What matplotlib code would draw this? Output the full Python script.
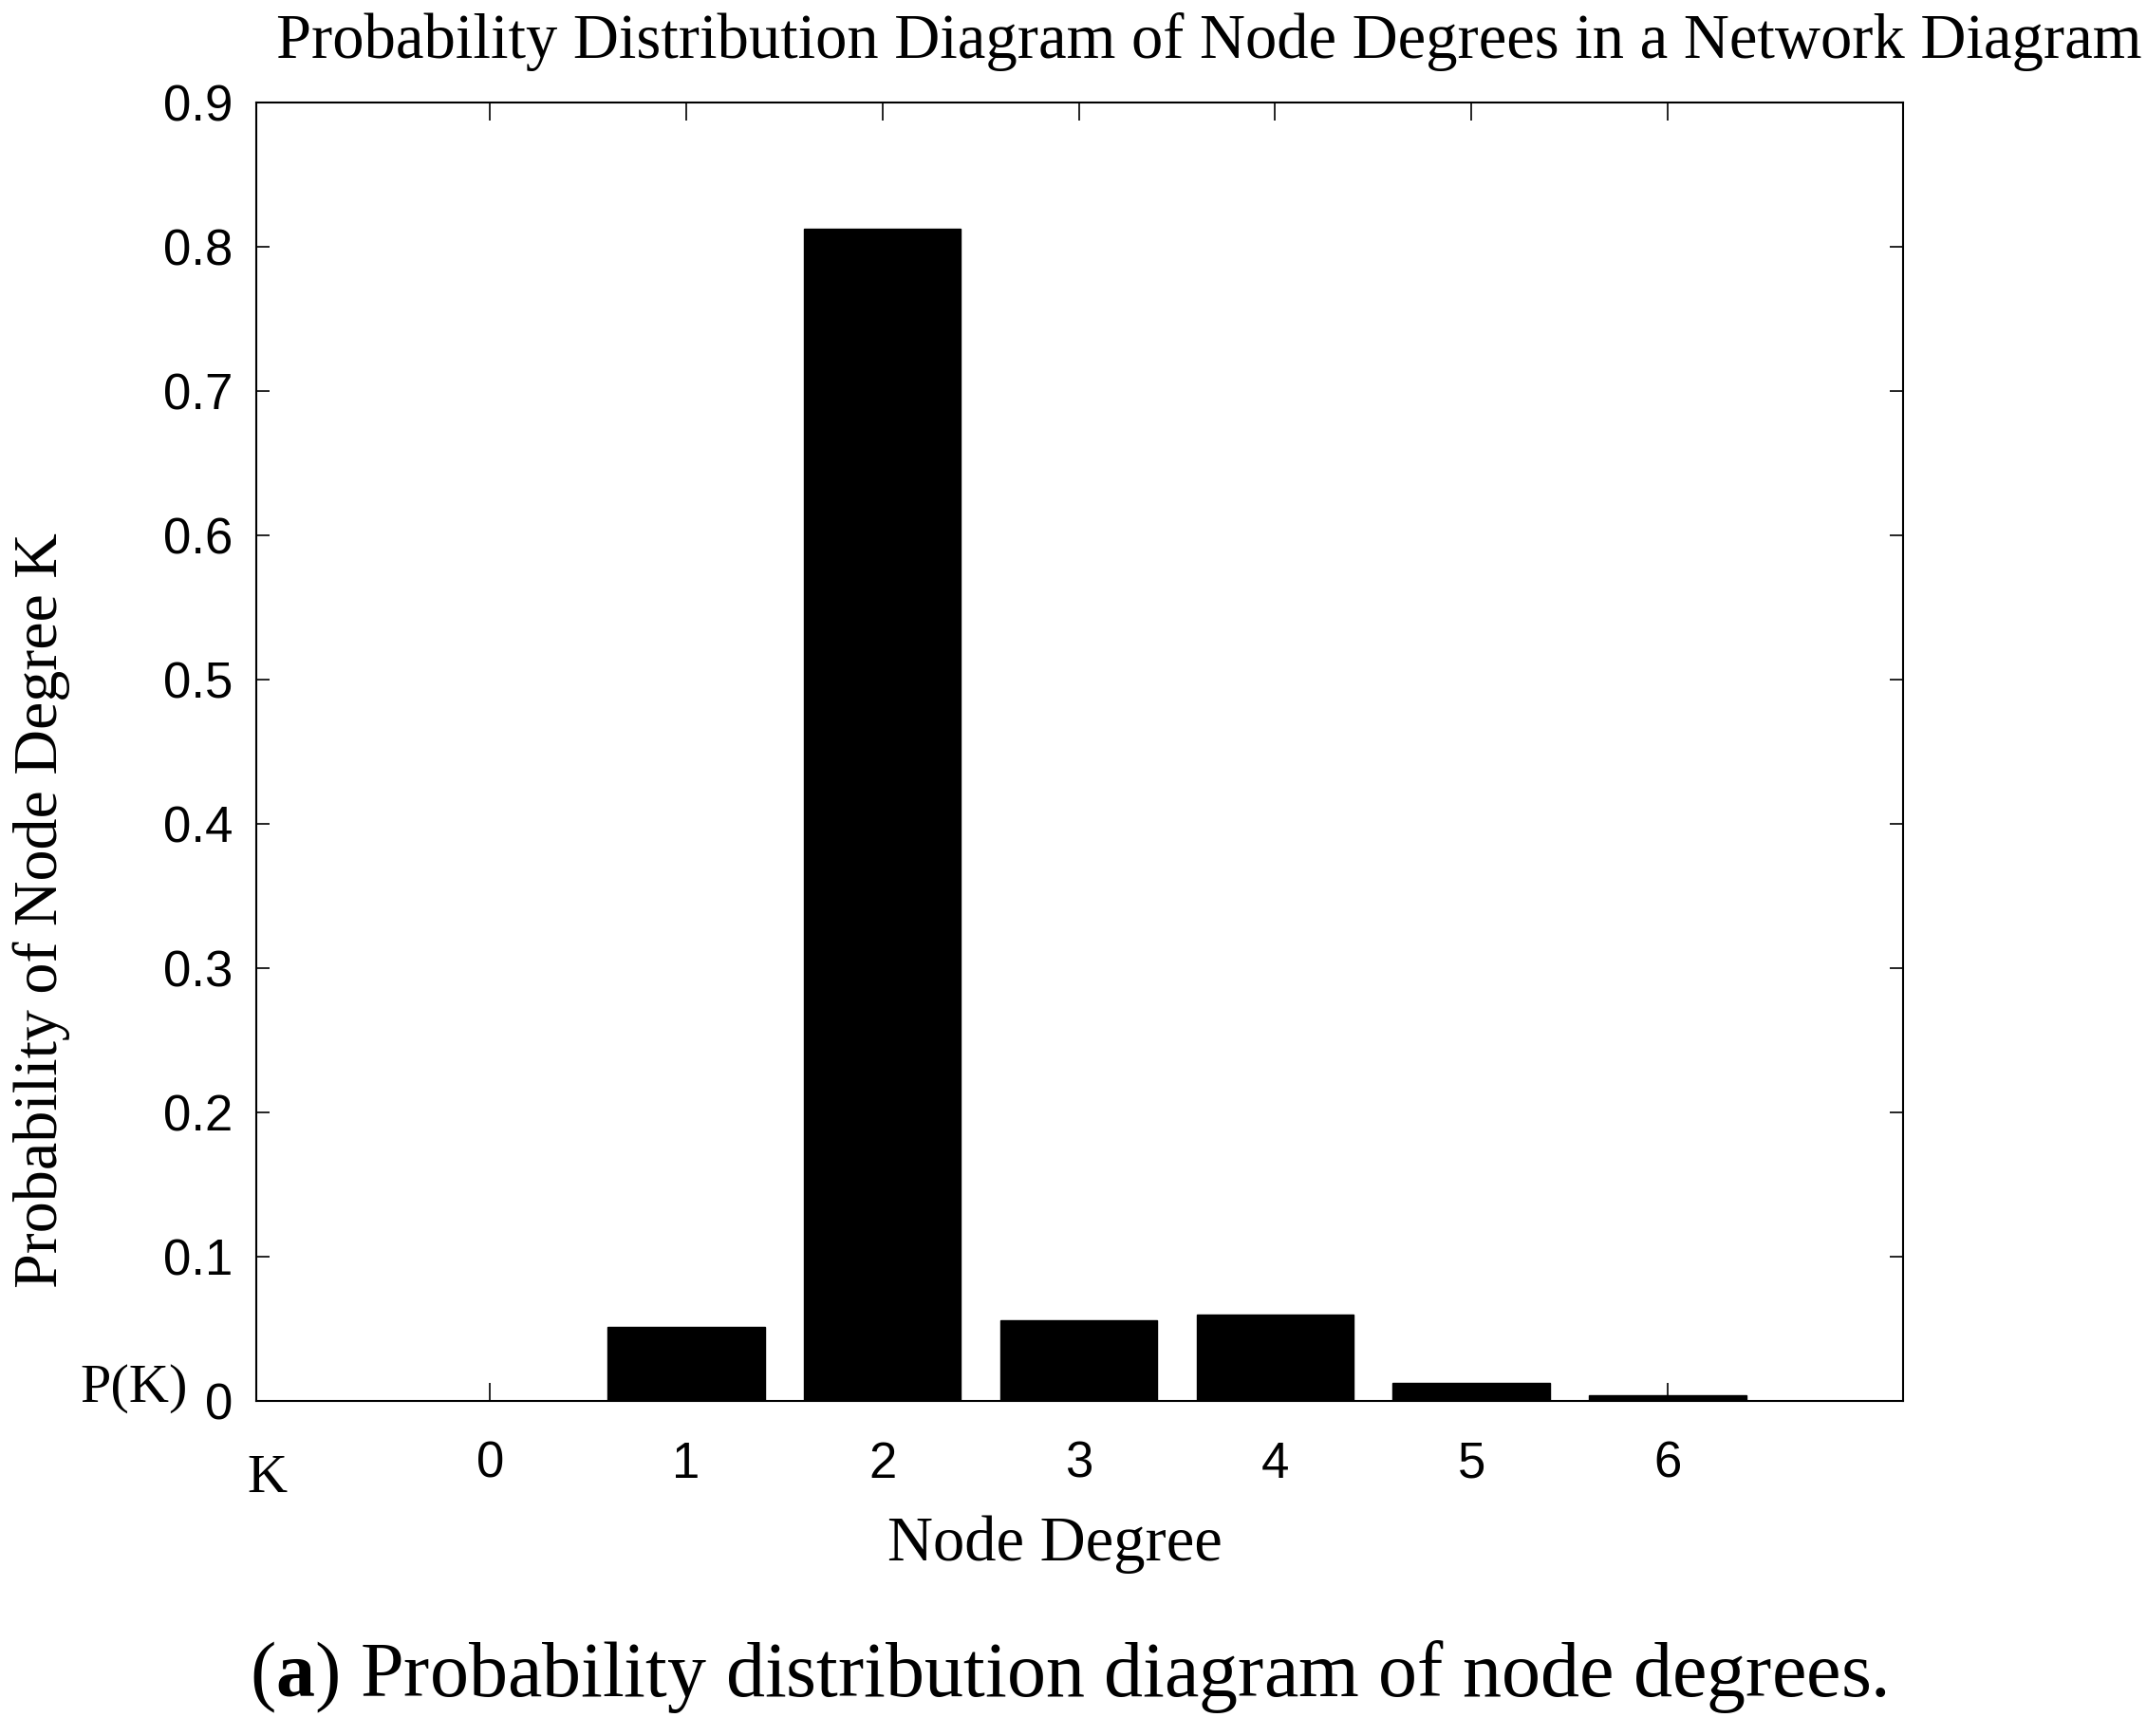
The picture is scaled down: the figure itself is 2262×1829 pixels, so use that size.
import matplotlib
matplotlib.use("Agg")
import matplotlib.pyplot as plt

plt.rcParams["mathtext.fontset"] = "custom"
plt.rcParams["mathtext.rm"] = "Liberation Serif"
plt.rcParams["mathtext.bf"] = "Liberation Serif:bold"

degrees = [0, 1, 2, 3, 4, 5, 6]
probabilities = [0.0, 0.0513, 0.8127, 0.0560, 0.0598, 0.0123, 0.0038]
y_ticks = [0, 0.1, 0.2, 0.3, 0.4, 0.5, 0.6, 0.7, 0.8, 0.9]
y_tick_labels = ["0", "0.1", "0.2", "0.3", "0.4", "0.5", "0.6", "0.7", "0.8", "0.9"]

title = "Probability Distribution Diagram of Node Degrees in a Network Diagram"
xlabel = "Node Degree"
ylabel = "Probability of Node Degree K"
caption = r"($\mathbf{a}$) Probability distribution diagram of node degrees."

fig = plt.figure(figsize=(22.62, 18.29), dpi=100)
ax = fig.add_axes([0.1194, 0.193, 0.767, 0.748])
ax.bar(degrees, probabilities, width=0.8, color="black", edgecolor="black")
ax.set_axisbelow(True)
ax.set_xlim(-1.19, 7.2)
ax.set_ylim(0, 0.9)
ax.set_xticks(degrees)
ax.set_xticklabels([str(d) for d in degrees], fontfamily="Liberation Sans", fontsize=38)
ax.set_yticks(y_ticks)
ax.set_yticklabels(y_tick_labels, fontfamily="Liberation Sans", fontsize=38)
ax.tick_params(axis="x", direction="in", length=14, width=1.2, pad=30, top=True, bottom=True)
ax.tick_params(axis="y", direction="in", length=10, width=1.2, pad=18, left=True, right=True)
for s in ax.spines.values():
    s.set_linewidth(1.5)

fig.text(0.563, 0.976, title, ha="center", va="center", fontfamily="Liberation Serif", fontsize=48)
fig.text(0.4915, 0.1105, xlabel, ha="center", va="center", fontfamily="Liberation Serif", fontsize=48)
fig.text(0.0195, 0.4756, ylabel, ha="center", va="center", rotation=90, fontfamily="Liberation Serif", fontsize=47.5)
fig.text(0.0625, 0.2, "P(K)", ha="center", va="center", fontfamily="Liberation Serif", fontsize=42)
fig.text(0.1245, 0.148, "K", ha="center", va="center", fontfamily="Liberation Serif", fontsize=42)
fig.text(0.4975, 0.034, caption, ha="center", va="center", fontfamily="Liberation Serif", fontsize=59)

fig.savefig("out.png", dpi=100)
